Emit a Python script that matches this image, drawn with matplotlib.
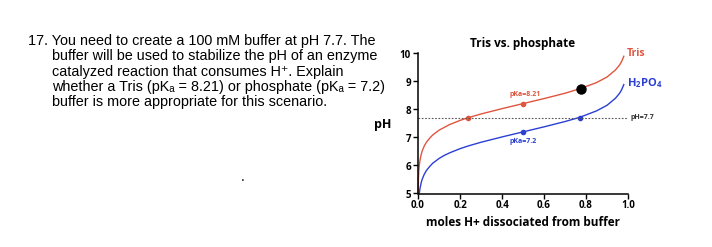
import matplotlib
matplotlib.use("Agg")
import matplotlib.pyplot as plt

# === 値===
tris_x = [0.0006, 0.001, 0.002, 0.003, 0.005, 0.007, 0.01, 0.015, 0.02, 0.03, 0.04,
          0.055, 0.07, 0.1, 0.125, 0.15, 0.2, 0.24, 0.3, 0.4, 0.5, 0.6, 0.7, 0.77,
          0.85, 0.9, 0.94, 0.96, 0.97, 0.98]
tris_ph = [5.0, 5.21, 5.51, 5.69, 5.91, 6.06, 6.21, 6.39, 6.52, 6.70, 6.83,
           6.97, 7.09, 7.26, 7.36, 7.46, 7.61, 7.71, 7.84, 8.03, 8.21, 8.39, 8.58, 8.74,
           8.96, 9.16, 9.41, 9.59, 9.72, 9.90]

phos_x = [0.006, 0.008, 0.01, 0.015, 0.02, 0.03, 0.04, 0.055, 0.07, 0.1, 0.125,
          0.15, 0.2, 0.24, 0.3, 0.4, 0.5, 0.6, 0.7, 0.77, 0.85, 0.9, 0.94, 0.96,
          0.97, 0.98]
phos_ph = [5.0, 5.11, 5.20, 5.38, 5.51, 5.69, 5.82, 5.96, 6.08, 6.25, 6.36,
           6.45, 6.60, 6.70, 6.83, 7.02, 7.20, 7.38, 7.57, 7.72, 7.95, 8.15, 8.40, 8.58,
           8.71, 8.89]

tris_pts_x = [0.24, 0.5]
tris_pts_y = [7.7, 8.21]
phos_pts_x = [0.5, 0.77]
phos_pts_y = [7.2, 7.7]
black_pt = (0.775, 8.74)
target_ph = 7.7

x_ticks = [0.0, 0.2, 0.4, 0.6, 0.8, 1.0]
y_ticks = [5, 6, 7, 8, 9, 10]

question = [
    "17. You need to create a 100 mM buffer at pH 7.7. The",
    "buffer will be used to stabilize the pH of an enzyme",
    "catalyzed reaction that consumes H⁺. Explain",
    "whether a Tris (pKₐ = 8.21) or phosphate (pKₐ = 7.2)",
    "buffer is more appropriate for this scenario.",
]
question_baselines = [45, 60.3, 75.6, 90.9, 106.2]

RED = "#e0553f"
BLUE = "#2b3fd3"

plt.rcParams["mathtext.fontset"] = "custom"
plt.rcParams["mathtext.bf"] = "Open Sans:bold"

W, H = 712, 247
fig = plt.figure(figsize=(W / 100, H / 100), dpi=100)

# === 問題文 ===
for i, line in enumerate(question):
    x0 = 28 if i == 0 else 52
    fig.text(x0 / W, 1 - question_baselines[i] / H, line, fontsize=10.4,
             family=["Liberation Sans", "DejaVu Sans"], va="baseline", ha="left")
fig.text(243 / W, 1 - 177 / H, ".", fontsize=10, family="Liberation Sans",
         va="center", ha="center")

# === グラフ ===
ax = fig.add_axes([418 / W, 1 - 193.5 / H, 210 / W, 140 / H])
ax.plot(tris_x, tris_ph, color=RED, lw=1.0, clip_on=False)
ax.plot(phos_x, phos_ph, color=BLUE, lw=1.0, clip_on=False)
ax.plot(tris_pts_x, tris_pts_y, "o", color=RED, ms=3, clip_on=False)
ax.plot(phos_pts_x, phos_pts_y, "o", color=BLUE, ms=3, clip_on=False)
ax.plot([black_pt[0]], [black_pt[1]], "o", color="black", ms=6.5, clip_on=False)
ax.plot([0, 1.0], [target_ph, target_ph], ls=(0, (1.5, 1.5)), color="#555555",
        lw=0.8, clip_on=False)

bold = dict(family="Open Sans", fontweight="bold")
ax.text(0.51, 8.55, "pKa=8.21", color=RED, fontsize=5, ha="center", va="center", **bold)
ax.text(0.50, 6.84, "pKa=7.2", color=BLUE, fontsize=5, ha="center", va="center", **bold)
ax.text(1.01, target_ph, "pH=7.7", color="#333333", fontsize=5, ha="left", va="center", **bold)
ax.text(0.995, 10.0, "Tris", color=RED, fontsize=7.5, ha="left", va="center", **bold)
ax.text(0.995, 8.94, r"$\mathbf{H_2PO_4}$", color=BLUE, fontsize=8, ha="left", va="center")

ax.set_xlim(0, 1.0)
ax.set_ylim(5, 10)
ax.set_xticks(x_ticks)
ax.set_yticks(y_ticks)
ax.set_xticklabels([f"{v:.1f}" for v in x_ticks], **bold)
ax.set_yticklabels([str(v) for v in y_ticks], **bold)
ax.tick_params(labelsize=7, length=3.5, width=1.0, pad=1.5, direction="out")
for s in ["top", "right"]:
    ax.spines[s].set_visible(False)
for s in ["left", "bottom"]:
    ax.spines[s].set_linewidth(1.1)

ax.set_title("Tris vs. phosphate", fontsize=8.5, pad=5, **bold)
ax.set_xlabel("moles H+ dissociated from buffer", fontsize=8.5, labelpad=3, **bold)
ax.set_ylabel("pH", fontsize=9, rotation=0, va="center", ha="center", **bold)
ax.yaxis.set_label_coords(-0.167, 0.49)

fig.savefig("out.png", dpi=100)
